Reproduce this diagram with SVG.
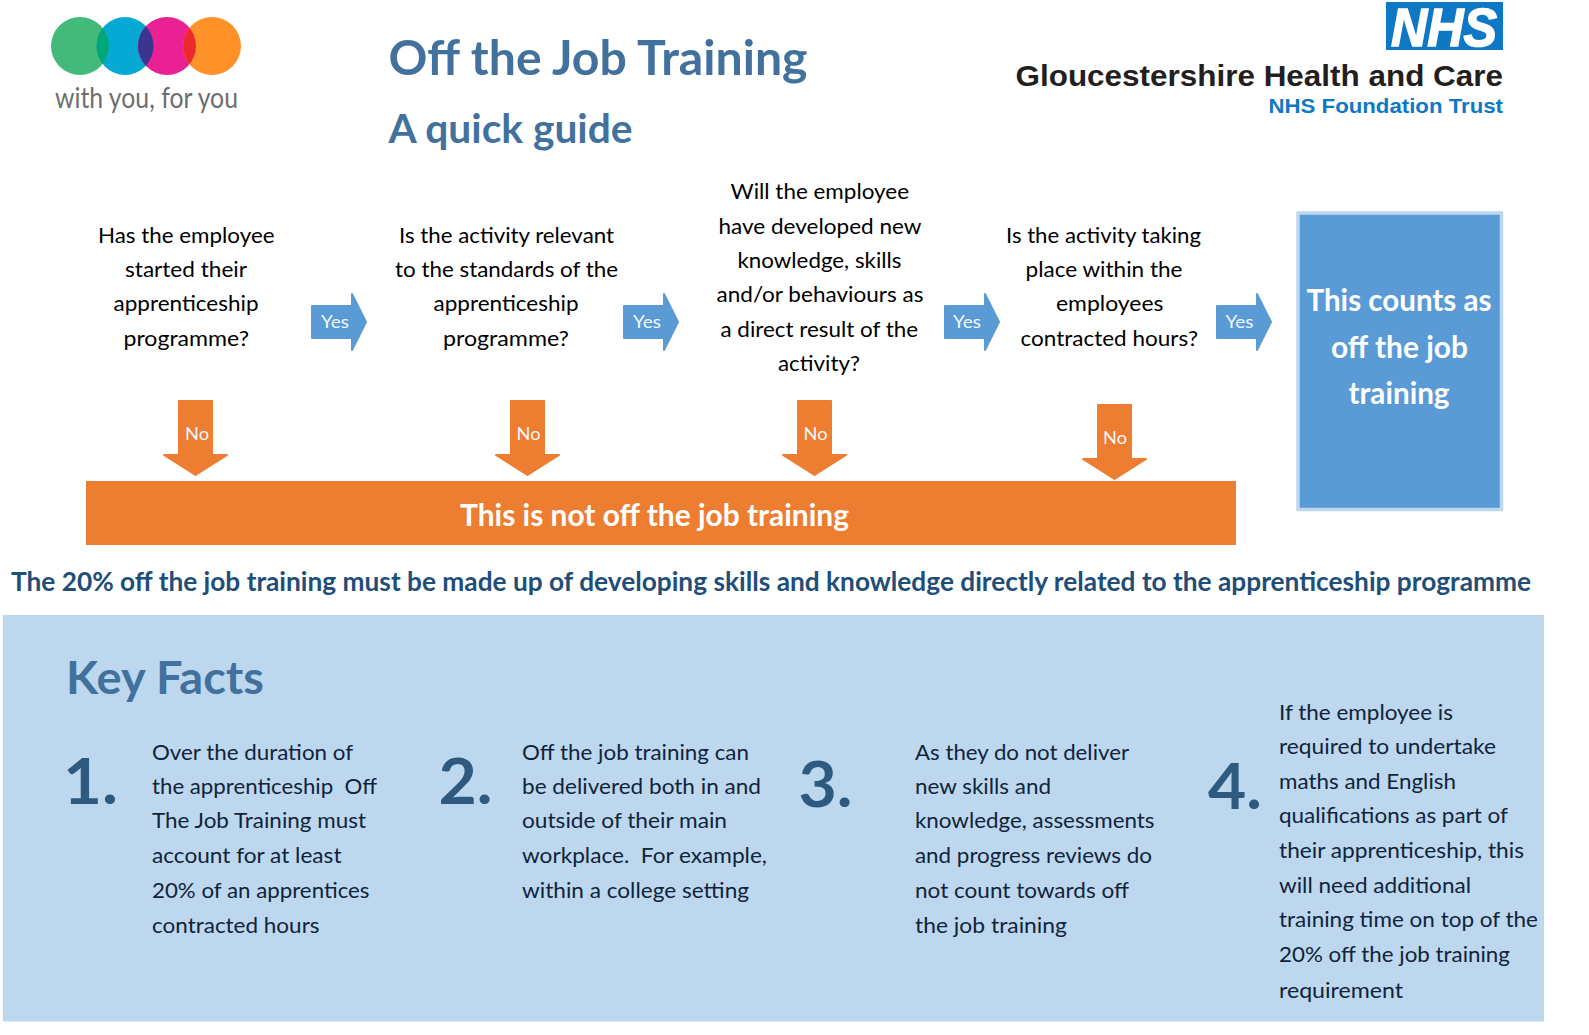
<svg xmlns="http://www.w3.org/2000/svg" width="1589" height="1035" viewBox="0 0 1589 1035">
<style>
text{font-family:Lato,"Liberation Sans",sans-serif}
.b{font-size:22px;fill:#000}
.k{font-size:22px;fill:#10243a}
.y{font-size:18px;fill:#f2f7fc}
.t{font-weight:700;fill:#41719C}
.n{font-size:64px;font-weight:700;fill:#2F5A80}
.w{font-weight:700;fill:#fff}
.ya{fill:#5B9BD5;stroke:#5B9BD5;stroke-width:2;stroke-linejoin:round}
.na{fill:#ED7D31;stroke:#ED7D31;stroke-width:2;stroke-linejoin:round}
</style>
<defs>
<path id="yes" d="M1 14H41V2L55 30L41 58V46H1Z"/>
<path id="no" d="M16 1H49V55H64L32.500 75L1 55H16Z"/>
<clipPath id="cb"><ellipse cx="125" cy="46" rx="28.500" ry="29"/></clipPath>
<clipPath id="cp"><ellipse cx="167" cy="46" rx="29" ry="29"/></clipPath>
<clipPath id="co"><ellipse cx="212" cy="46" rx="29" ry="29"/></clipPath>
</defs>
<rect width="1589" height="1035" fill="#fff"/>

<g id="logo-with-you">
<ellipse cx="80" cy="46" rx="29" ry="29" fill="#43B97C"/>
<ellipse cx="125" cy="46" rx="28.500" ry="29" fill="#05A9D4"/>
<ellipse cx="167" cy="46" rx="29" ry="29" fill="#E92193"/>
<ellipse cx="212" cy="46" rx="29" ry="29" fill="#FF9129"/>
<ellipse cx="80" cy="46" rx="29" ry="29" fill="#00A878" clip-path="url(#cb)"/>
<ellipse cx="125" cy="46" rx="28.500" ry="29" fill="#3A3590" clip-path="url(#cp)"/>
<ellipse cx="167" cy="46" rx="29" ry="29" fill="#EC2A2E" clip-path="url(#co)"/>
<text x="55" y="108" font-size="28" fill="#6D6E71" textLength="183" lengthAdjust="spacingAndGlyphs">with you, for you</text>
</g>

<g id="title">
<text class="t" x="388.500" y="75" font-size="48" textLength="419" lengthAdjust="spacingAndGlyphs">Off the Job Training</text>
<text class="t" x="388.500" y="143" font-size="40" textLength="244" lengthAdjust="spacingAndGlyphs">A quick guide</text>
</g>

<g id="logo-nhs">
<rect x="1386" y="2" width="117" height="48" fill="#0F78C4"/>
<text x="1444" y="46" text-anchor="middle" font-size="54" font-weight="700" font-style="italic" fill="#fff" stroke="#fff" stroke-width="1.500" style="font-family:'Liberation Sans',sans-serif" textLength="106" lengthAdjust="spacingAndGlyphs">NHS</text>
<text x="1015.500" y="85.500" font-size="30" font-weight="700" fill="#231F20" style="font-family:'Liberation Sans',sans-serif" textLength="487.500" lengthAdjust="spacingAndGlyphs">Gloucestershire Health and Care</text>
<text x="1268.500" y="113" font-size="21" font-weight="700" fill="#0F78C4" style="font-family:'Liberation Sans',sans-serif" textLength="234.500" lengthAdjust="spacingAndGlyphs">NHS Foundation Trust</text>
</g>

<g id="q1">
<text class="b" x="98" y="243" textLength="176.500" lengthAdjust="spacingAndGlyphs">Has the employee</text>
<text class="b" x="125" y="276.500" textLength="122" lengthAdjust="spacingAndGlyphs">started their</text>
<text class="b" x="113.500" y="311" textLength="145" lengthAdjust="spacingAndGlyphs">apprenticeship</text>
<text class="b" x="123.500" y="346" textLength="125.500" lengthAdjust="spacingAndGlyphs">programme?</text>
</g>
<g id="q2">
<text class="b" x="399" y="243" textLength="215" lengthAdjust="spacingAndGlyphs">Is the activity relevant</text>
<text class="b" x="395" y="276.500" textLength="223" lengthAdjust="spacingAndGlyphs">to the standards of the</text>
<text class="b" x="433.500" y="311" textLength="145" lengthAdjust="spacingAndGlyphs">apprenticeship</text>
<text class="b" x="443" y="346" textLength="126" lengthAdjust="spacingAndGlyphs">programme?</text>
</g>
<g id="q3">
<text class="b" x="730.500" y="199" textLength="178.500" lengthAdjust="spacingAndGlyphs">Will the employee</text>
<text class="b" x="718.500" y="234" textLength="203" lengthAdjust="spacingAndGlyphs">have developed new</text>
<text class="b" x="737.500" y="268" textLength="164" lengthAdjust="spacingAndGlyphs">knowledge, skills</text>
<text class="b" x="716.500" y="301.500" textLength="207" lengthAdjust="spacingAndGlyphs">and/or behaviours as</text>
<text class="b" x="720.500" y="337" textLength="197.500" lengthAdjust="spacingAndGlyphs">a direct result of the</text>
<text class="b" x="778" y="371" textLength="82" lengthAdjust="spacingAndGlyphs">activity?</text>
</g>
<g id="q4">
<text class="b" x="1006" y="243" textLength="195" lengthAdjust="spacingAndGlyphs">Is the activity taking</text>
<text class="b" x="1025.500" y="276.500" textLength="157" lengthAdjust="spacingAndGlyphs">place within the</text>
<text class="b" x="1056" y="311" textLength="107.500" lengthAdjust="spacingAndGlyphs">employees</text>
<text class="b" x="1020.500" y="346" textLength="177.500" lengthAdjust="spacingAndGlyphs">contracted hours?</text>
</g>

<g id="counts-box">
<rect x="1298" y="213" width="203.500" height="296.500" fill="#5B9BD5" stroke="#BDD7EE" stroke-width="3.500"/>
<text class="w" x="1306.500" y="311" font-size="31" textLength="185" lengthAdjust="spacingAndGlyphs">This counts as</text>
<text class="w" x="1331" y="358" font-size="31" textLength="137" lengthAdjust="spacingAndGlyphs">off the job</text>
<text class="w" x="1348.500" y="404" font-size="31" textLength="101" lengthAdjust="spacingAndGlyphs">training</text>
</g>

<g id="not-bar">
<rect x="86" y="481" width="1150" height="64" fill="#ED7D31"/>
<text class="w" x="460" y="526" font-size="30" textLength="389" lengthAdjust="spacingAndGlyphs">This is not off the job training</text>
</g>

<g id="connectors">
<use href="#yes" class="ya" x="311" y="292"/>
<use href="#yes" class="ya" x="623" y="292"/>
<use href="#yes" class="ya" x="944" y="292"/>
<use href="#yes" class="ya" x="1216" y="292"/>
<use href="#no" class="na" x="163" y="400"/>
<use href="#no" class="na" x="495" y="400"/>
<use href="#no" class="na" x="782" y="400"/>
<use href="#no" class="na" x="1082" y="404"/>
<text class="y" x="321" y="328" textLength="28" lengthAdjust="spacingAndGlyphs">Yes</text>
<text class="y" x="633" y="328" textLength="28" lengthAdjust="spacingAndGlyphs">Yes</text>
<text class="y" x="953" y="328" textLength="28" lengthAdjust="spacingAndGlyphs">Yes</text>
<text class="y" x="1225.500" y="328" textLength="28" lengthAdjust="spacingAndGlyphs">Yes</text>
<text class="y" x="185" y="440" textLength="24" lengthAdjust="spacingAndGlyphs">No</text>
<text class="y" x="516.500" y="440" textLength="24" lengthAdjust="spacingAndGlyphs">No</text>
<text class="y" x="803.500" y="440" textLength="24" lengthAdjust="spacingAndGlyphs">No</text>
<text class="y" x="1103" y="444" textLength="24" lengthAdjust="spacingAndGlyphs">No</text>
</g>

<g id="statement">
<text x="11" y="591" font-size="27" font-weight="700" fill="#1F4E79" textLength="1520" lengthAdjust="spacingAndGlyphs">The 20% off the job training must be made up of developing skills and knowledge directly related to the apprenticeship programme</text>
</g>

<g id="key-facts">
<rect x="3" y="615" width="1541" height="406.500" fill="#BDD7EE"/>
<text class="t" x="66" y="694" font-size="46" textLength="198" lengthAdjust="spacingAndGlyphs">Key Facts</text>
</g>

<g id="fact1">
<text class="n" x="63" y="804" textLength="55" lengthAdjust="spacingAndGlyphs">1.</text>
<text class="k" x="152" y="760" textLength="201" lengthAdjust="spacingAndGlyphs">Over the duration of</text>
<text class="k" x="152" y="793.500" textLength="225" lengthAdjust="spacingAndGlyphs" xml:space="preserve">the apprenticeship  Off</text>
<text class="k" x="152" y="828" textLength="214" lengthAdjust="spacingAndGlyphs">The Job Training must</text>
<text class="k" x="152" y="862.500" textLength="189.500" lengthAdjust="spacingAndGlyphs">account for at least</text>
<text class="k" x="152" y="898" textLength="217.500" lengthAdjust="spacingAndGlyphs">20% of an apprentices</text>
<text class="k" x="152" y="933" textLength="167.500" lengthAdjust="spacingAndGlyphs">contracted hours</text>
</g>
<g id="fact2">
<text class="n" x="438.500" y="804" textLength="54" lengthAdjust="spacingAndGlyphs">2.</text>
<text class="k" x="522" y="760" textLength="227" lengthAdjust="spacingAndGlyphs">Off the job training can</text>
<text class="k" x="522" y="793.500" textLength="239" lengthAdjust="spacingAndGlyphs">be delivered both in and</text>
<text class="k" x="522" y="828" textLength="205" lengthAdjust="spacingAndGlyphs">outside of their main</text>
<text class="k" x="522" y="862.500" textLength="245" lengthAdjust="spacingAndGlyphs" xml:space="preserve">workplace.  For example,</text>
<text class="k" x="522" y="898" textLength="227" lengthAdjust="spacingAndGlyphs">within a college setting</text>
</g>
<g id="fact3">
<text class="n" x="798.500" y="807" textLength="54" lengthAdjust="spacingAndGlyphs">3.</text>
<text class="k" x="915" y="760" textLength="214" lengthAdjust="spacingAndGlyphs">As they do not deliver</text>
<text class="k" x="915" y="793.500" textLength="136" lengthAdjust="spacingAndGlyphs">new skills and</text>
<text class="k" x="915" y="828" textLength="239.500" lengthAdjust="spacingAndGlyphs">knowledge, assessments</text>
<text class="k" x="915" y="862.500" textLength="237" lengthAdjust="spacingAndGlyphs">and progress reviews do</text>
<text class="k" x="915" y="898" textLength="214" lengthAdjust="spacingAndGlyphs">not count towards off</text>
<text class="k" x="915" y="933" textLength="152" lengthAdjust="spacingAndGlyphs">the job training</text>
</g>
<g id="fact4">
<text class="n" x="1208" y="809" textLength="54" lengthAdjust="spacingAndGlyphs">4.</text>
<text class="k" x="1279" y="719.500" textLength="174" lengthAdjust="spacingAndGlyphs">If the employee is</text>
<text class="k" x="1279" y="754" textLength="217" lengthAdjust="spacingAndGlyphs">required to undertake</text>
<text class="k" x="1279" y="788.500" textLength="177" lengthAdjust="spacingAndGlyphs">maths and English</text>
<text class="k" x="1279" y="823" textLength="229" lengthAdjust="spacingAndGlyphs">qualifications as part of</text>
<text class="k" x="1279" y="858" textLength="245" lengthAdjust="spacingAndGlyphs">their apprenticeship, this</text>
<text class="k" x="1279" y="893" textLength="192" lengthAdjust="spacingAndGlyphs">will need additional</text>
<text class="k" x="1279" y="927" textLength="259" lengthAdjust="spacingAndGlyphs">training time on top of the</text>
<text class="k" x="1279" y="962" textLength="231" lengthAdjust="spacingAndGlyphs">20% off the job training</text>
<text class="k" x="1279" y="998" textLength="124" lengthAdjust="spacingAndGlyphs">requirement</text>
</g>
</svg>
